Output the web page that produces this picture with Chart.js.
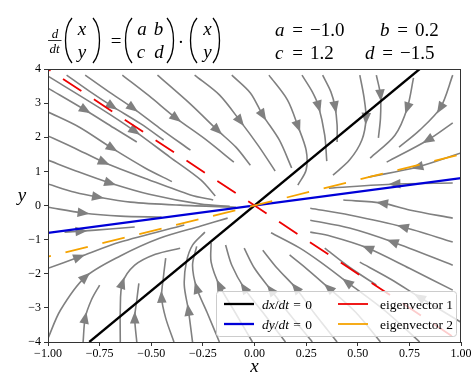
<!DOCTYPE html>
<html>
<head>
<meta charset="utf-8">
<script src="https://cdn.jsdelivr.net/npm/chart.js@4.4.1/dist/chart.umd.min.js"></script>
<style>
  html, body { margin: 0; padding: 0; background: #fff; }
</style>
</head>
<body>
<canvas id="chart" width="474" height="379"></canvas>
<script>
// axis ticks
const xTicks = [-1, -0.75, -0.5, -0.25, 0, 0.25, 0.5, 0.75, 1];
const yTicks = [-4, -3, -2, -1, 0, 1, 2, 3, 4];

// system parameters shown in the title
const paramNames = ['a', 'b', 'c', 'd'];
const paramValues = [-1.0, 0.2, 1.2, -1.5];

// straight lines, end points
const dxZero = [[-0.8, -4], [0.8, 4]];
const dyZero = [[-1, -0.8], [1, 0.8]];
const eigen1 = [[-1, 4], [1, -4]];
const eigen2 = [[-1, -1.5], [1, 1.5]];

const legendLabels = ['dx/dt = 0', 'dy/dt = 0', 'eigenvector 1', 'eigenvector 2'];

// streamlines, points in flow order
const streamlines = [
  [[-0.91, 3.82], [-0.80, 3.35], [-0.69, 2.91], [-0.55, 2.39], [-0.44, 1.92]],
  [[-0.82, 3.82], [-0.71, 3.35], [-0.59, 2.86], [-0.46, 2.27], [-0.31, 1.62]],
  [[-0.64, 3.82], [-0.51, 3.21], [-0.38, 2.56], [-0.24, 1.95], [-0.10, 1.27]],
  [[-0.47, 3.82], [-0.31, 2.97], [-0.18, 2.21], [-0.09, 1.71], [-0.02, 1.18]],
  [[-0.29, 3.82], [-0.17, 3.24], [-0.07, 2.48], [0.02, 1.74], [0.10, 1.01]],
  [[-0.11, 3.82], [-0.02, 3.30], [0.04, 2.65], [0.12, 1.92], [0.18, 1.10]],
  [[0.07, 3.82], [0.16, 3.09], [0.21, 2.33], [0.25, 1.62], [0.25, 1.04], [0.21, 0.60]],
  [[0.23, 3.82], [0.28, 3.33], [0.31, 2.91], [0.34, 2.06], [0.35, 1.30]],
  [[0.33, 3.82], [0.37, 3.33], [0.39, 2.89], [0.40, 2.36], [0.40, 1.86]],
  [[0.51, 3.82], [0.53, 3.18], [0.54, 2.56], [0.52, 1.92], [0.46, 1.33], [0.38, 0.89]],
  [[0.59, 3.82], [0.61, 3.24], [0.61, 2.56], [0.60, 1.98]],
  [[0.77, 3.74], [0.74, 2.86], [0.68, 2.06], [0.56, 1.39]],
  [[0.96, 3.82], [0.90, 2.86], [0.80, 2.21], [0.70, 1.71]],
  [[0.96, 2.42], [0.84, 1.92], [0.64, 1.27]],
  [[1.00, 1.54], [0.79, 1.13], [0.55, 0.83]],
  [[0.96, 0.66], [0.68, 0.63], [0.36, 0.51]],
  [[0.96, -0.37], [0.75, -0.13], [0.62, 0.07], [0.43, 0.16]],
  [[0.96, -1.07], [0.72, -0.63], [0.46, -0.28], [0.27, -0.08]],
  [[0.96, -1.75], [0.67, -1.07], [0.46, -0.66], [0.27, -0.43]],
  [[0.96, -2.48], [0.75, -1.84], [0.55, -1.25], [0.37, -0.90], [0.27, -0.78]],
  [[1.00, -3.42], [0.80, -2.69], [0.66, -2.16], [0.51, -1.66]],
  [[0.59, -2.33], [0.46, -1.81], [0.34, -1.25]],
  [[-1.00, 3.79], [-0.75, 2.86], [-0.58, 2.18], [-0.41, 1.42], [-0.26, 0.75], [-0.19, 0.28]],
  [[-1.00, 3.44], [-0.82, 2.80], [-0.68, 2.27], [-0.57, 1.86]],
  [[-1.00, 2.74], [-0.85, 2.30], [-0.69, 1.68], [-0.53, 1.10], [-0.40, 0.70]],
  [[-1.00, 2.04], [-0.87, 1.68], [-0.73, 1.27], [-0.51, 0.75], [-0.31, 0.31], [-0.20, 0.16]],
  [[-1.00, 1.33], [-0.85, 0.98], [-0.70, 0.66], [-0.51, 0.33], [-0.26, 0.04], [-0.12, -0.02]],
  [[-1.00, 0.63], [-0.87, 0.39], [-0.76, 0.25], [-0.60, 0.10], [-0.36, 0.01], [-0.09, -0.05]],
  [[-1.00, -0.05], [-0.83, -0.22], [-0.65, -0.31], [-0.45, -0.34]],
  [[-0.92, -0.78], [-0.84, -0.75], [-0.70, -0.69], [-0.58, -0.63]],
  [[-1.00, -1.84], [-0.85, -1.51], [-0.65, -1.07], [-0.34, -0.57]],
  [[-1.00, -3.89], [-0.94, -3.07], [-0.82, -2.10], [-0.65, -1.48], [-0.46, -0.96], [-0.26, -0.60], [-0.13, -0.37]],
  [[-0.83, -4.00], [-0.82, -3.30], [-0.79, -2.77], [-0.75, -2.33]],
  [[-0.65, -4.00], [-0.65, -3.07], [-0.64, -2.28], [-0.58, -1.75], [-0.48, -1.43], [-0.36, -1.25]],
  [[-0.57, -4.00], [-0.58, -3.30], [-0.57, -2.77], [-0.56, -2.28]],
  [[-0.39, -4.00], [-0.43, -3.30], [-0.45, -2.69], [-0.44, -2.04], [-0.43, -1.54]],
  [[-0.30, -4.00], [-0.32, -3.07], [-0.34, -2.34], [-0.33, -1.66], [-0.30, -1.16], [-0.24, -0.78]],
  [[-0.17, -4.00], [-0.23, -3.13], [-0.28, -2.42], [-0.30, -1.75], [-0.28, -1.20]],
  [[-0.01, -4.00], [-0.10, -3.07], [-0.17, -2.34], [-0.21, -1.66], [-0.21, -1.10]],
  [[0.15, -4.00], [0.04, -3.13], [-0.05, -2.42], [-0.11, -1.75], [-0.14, -1.16]],
  [[0.28, -4.00], [0.17, -3.19], [0.08, -2.48], [0.00, -1.84], [-0.05, -1.25]],
  [[0.40, -4.00], [0.29, -3.16], [0.20, -2.42], [0.11, -1.84], [0.04, -1.31]],
  [[0.61, -4.00], [0.49, -3.13], [0.36, -2.42], [0.25, -1.84], [0.17, -1.45]],
  [[0.80, -4.00], [0.63, -3.07], [0.45, -2.25], [0.32, -1.66], [0.22, -1.25], [0.08, -0.80]]
];
// index of the point carrying the arrow head (-1 = none)
const arrowAt = [
  2, 2, 2, 2, 2, 2, 2, 2, 2, 2, 1, 1, 1,
  1, 1, 1, 2, 1, 1, 2, 1, -1,
  2, 1, 2, 2, 2, 2, 1, 1, 1,
  2, 1, 2, 1, 2, 1, 2, 2, 2, 2, 2, 2, 2
];

const STREAM = '#808080';
const SERIF = '"Liberation Serif", "DejaVu Serif", serif';

function pts(arr) {
  return arr.map(p => ({ x: p[0], y: p[1] }));
}
function fmt(v, d) {
  return v.toFixed(d).replace('-', '\u2212');
}

const datasets = streamlines.map(line => ({
  data: pts(line),
  showLine: true,
  borderColor: STREAM,
  borderWidth: 1.6,
  pointRadius: 0,
  tension: 0.3,
  order: 10
}));
datasets.push(
  { data: pts(dxZero), showLine: true, borderColor: '#000', borderWidth: 2.3, pointRadius: 0, order: 4 },
  { data: pts(dyZero), showLine: true, borderColor: '#0000d8', borderWidth: 2.3, pointRadius: 0, order: 3 },
  { data: pts(eigen1), showLine: true, borderColor: '#ee0000', borderWidth: 1.8, borderDash: [22, 15], borderDashOffset: 19, pointRadius: 0, order: 2 },
  { data: pts(eigen2), showLine: true, borderColor: '#f5a300', borderWidth: 1.8, borderDash: [23, 15], borderDashOffset: 20, pointRadius: 0, order: 1 }
);

function drawParen(ctx, x0, x1, top, bottom) {
  // x0 = tips, x1 = bulge
  const h = bottom - top;
  const c = (8 * x1 - 2 * x0) / 6;
  ctx.beginPath();
  ctx.moveTo(x0, top);
  ctx.bezierCurveTo(c, top + h * 0.22, c, bottom - h * 0.22, x0, bottom);
  ctx.stroke();
}

function drawRich(ctx, text, x, y, size, mathMode) {
  let cx = x;
  for (const ch of text) {
    const it = mathMode && /[a-z]/i.test(ch);
    ctx.font = (it ? 'italic ' : '') + size + 'px ' + SERIF;
    ctx.fillText(ch, cx, y);
    cx += ctx.measureText(ch).width + (mathMode && ch === ' ' ? 1 : 0);
  }
}

const decor = {
  id: 'decor',
  afterDatasetDraw(chart, args) {
    const i = args.index;
    if (i >= streamlines.length || arrowAt[i] < 0) return;
    const line = streamlines[i];
    const k = arrowAt[i];
    const xs = chart.scales.x, ys = chart.scales.y;
    const a = line[k - 1], b = line[k], c = line[Math.min(k + 1, line.length - 1)];
    const ang = Math.atan2(ys.getPixelForValue(c[1]) - ys.getPixelForValue(a[1]),
                           xs.getPixelForValue(c[0]) - xs.getPixelForValue(a[0]));
    const ctx = chart.ctx;
    ctx.save();
    ctx.beginPath();
    ctx.rect(chart.chartArea.left, chart.chartArea.top, chart.chartArea.width, chart.chartArea.height);
    ctx.clip();
    ctx.translate(xs.getPixelForValue(b[0]), ys.getPixelForValue(b[1]));
    ctx.rotate(ang);
    ctx.beginPath();
    ctx.moveTo(6.5, 0);
    ctx.lineTo(-5.5, -4.8);
    ctx.lineTo(-5.5, 4.8);
    ctx.closePath();
    ctx.fillStyle = STREAM;
    ctx.fill();
    ctx.restore();
  },
  afterDraw(chart) {
    const ctx = chart.ctx;
    const ca = chart.chartArea;
    ctx.save();

    // frame
    ctx.strokeStyle = '#333';
    ctx.lineWidth = 1;
    ctx.strokeRect(ca.left + 0.5, ca.top + 0.5, ca.width - 1, ca.height);

    // legend
    ctx.fillStyle = 'rgba(255,255,255,0.8)';
    ctx.strokeStyle = '#cccccc';
    ctx.beginPath();
    ctx.roundRect(216.5, 291.5, 240, 45, 3);
    ctx.fill();
    ctx.stroke();
    const legendColors = ['#000', '#0000d8', '#ee0000', '#f5a300'];
    const legendWidths = [2.3, 2.3, 1.8, 1.8];
    const hx = [224, 224, 338, 338];
    const ty = [304, 324, 304, 324];
    const tx = [262, 262, 380, 380];
    ctx.textBaseline = 'alphabetic';
    ctx.textAlign = 'left';
    for (let i = 0; i < legendLabels.length; i++) {
      ctx.strokeStyle = legendColors[i];
      ctx.lineWidth = legendWidths[i];
      ctx.beginPath();
      ctx.moveTo(hx[i], ty[i]);
      ctx.lineTo(hx[i] + 30, ty[i]);
      ctx.stroke();
      ctx.fillStyle = '#000';
      drawRich(ctx, legendLabels[i], tx[i], ty[i] + 4.5, 13.5, legendLabels[i].includes('/'));
    }

    // axis titles
    ctx.fillStyle = '#000';
    ctx.textAlign = 'center';
    ctx.font = 'italic 19px ' + SERIF;
    ctx.fillText('x', (ca.left + ca.right) / 2, 372);
    ctx.fillText('y', 22, 201);

    // title equation
    ctx.font = 'italic 13px ' + SERIF;
    ctx.fillText('d', 55, 38);
    ctx.fillText('dt', 54.5, 53);
    ctx.strokeStyle = '#000';
    ctx.lineWidth = 0.8;
    ctx.beginPath();
    ctx.moveTo(48, 40.5);
    ctx.lineTo(61.5, 40.5);
    ctx.stroke();

    ctx.lineWidth = 1.3;
    drawParen(ctx, 72, 65.5, 18, 63);
    drawParen(ctx, 93, 99.5, 18, 63);
    drawParen(ctx, 132, 125.5, 18, 63);
    drawParen(ctx, 167, 173.5, 18, 63);
    drawParen(ctx, 197, 190.5, 18, 63);
    drawParen(ctx, 213, 219.5, 18, 63);

    ctx.font = 'italic 19px ' + SERIF;
    ctx.fillText('x', 82, 35);
    ctx.fillText('y', 82, 58);
    ctx.fillText(paramNames[0], 142, 35);
    ctx.fillText(paramNames[1], 158.5, 35);
    ctx.fillText(paramNames[2], 141, 58);
    ctx.fillText(paramNames[3], 159, 58);
    ctx.fillText('x', 207.5, 35);
    ctx.fillText('y', 207.5, 58);
    ctx.font = '19px ' + SERIF;
    ctx.fillText('=', 116, 47);
    ctx.fillText('\u00b7', 181, 48);

    // parameter values
    const nameX = [275, 380, 275, 365];
    const eqX = [297.5, 402.5, 297.5, 387.5];
    const valX = [310, 415, 310, 400];
    const baseY = [36, 36, 59, 59];
    for (let i = 0; i < paramNames.length; i++) {
      ctx.textAlign = 'left';
      ctx.font = 'italic 19px ' + SERIF;
      ctx.fillText(paramNames[i], nameX[i], baseY[i]);
      ctx.textAlign = 'center';
      ctx.font = '19px ' + SERIF;
      ctx.fillText('=', eqX[i], baseY[i]);
      ctx.textAlign = 'left';
      ctx.fillText(fmt(paramValues[i], 1), valX[i], baseY[i]);
    }
    ctx.restore();
  }
};

new Chart(document.getElementById('chart'), {
  type: 'scatter',
  data: { datasets: datasets },
  options: {
    responsive: false,
    animation: false,
    devicePixelRatio: 1,
    layout: { padding: { top: 69, right: 13, left: 0, bottom: 0 } },
    plugins: { legend: { display: false }, tooltip: { enabled: false } },
    scales: {
      x: {
        type: 'linear',
        min: -1, max: 1,
        afterBuildTicks: s => { s.ticks = xTicks.map(v => ({ value: v })); },
        afterFit: s => { s.height = 37; },
        grid: { drawOnChartArea: false, tickLength: 4, tickColor: '#333' },
        border: { color: '#333' },
        ticks: {
          autoSkip: false, maxRotation: 0, padding: 1, color: '#000',
          font: { family: SERIF, size: 12 },
          callback: v => fmt(v, 2)
        }
      },
      y: {
        type: 'linear',
        min: -4, max: 4,
        afterBuildTicks: s => { s.ticks = yTicks.map(v => ({ value: v })); },
        afterFit: s => { s.width = 48; },
        grid: { drawOnChartArea: false, tickLength: 4, tickColor: '#333' },
        border: { color: '#333' },
        ticks: {
          autoSkip: false, padding: 3, color: '#000',
          font: { family: SERIF, size: 12 },
          callback: v => fmt(v, 0)
        }
      }
    }
  },
  plugins: [decor]
});
</script>
</body>
</html>
